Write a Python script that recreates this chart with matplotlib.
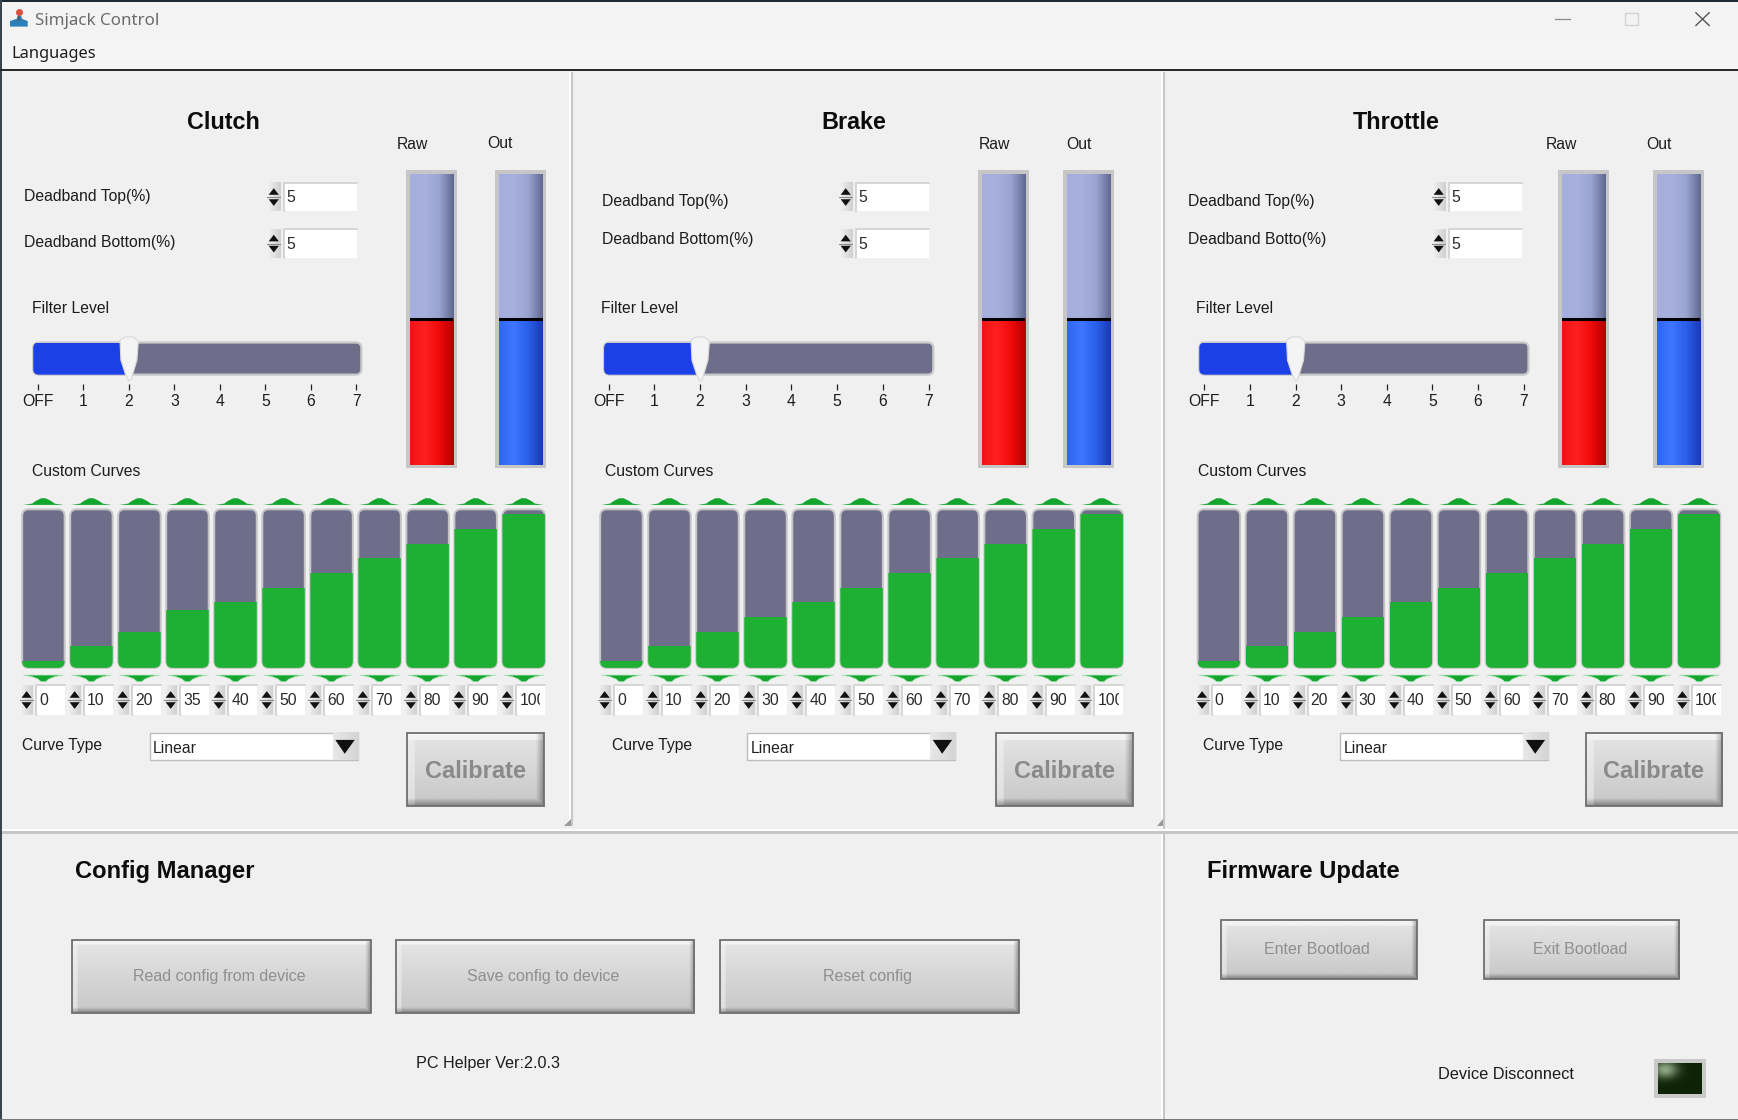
import numpy as np
import matplotlib
matplotlib.use("Agg")
import matplotlib.pyplot as plt
from matplotlib.patches import Rectangle, FancyBboxPatch, Polygon
from matplotlib.colors import LinearSegmentedColormap, to_rgb

plt.rcParams['font.family'] = ['Liberation Sans', 'DejaVu Sans']

# ---- values
PANEL_TITLES = ["Clutch", "Brake", "Throttle"]
CLUTCH_CURVE = [0, 10, 20, 35, 40, 50, 60, 70, 80, 90, 100]
BRAKE_CURVE = [0, 10, 20, 30, 40, 50, 60, 70, 80, 90, 100]
THROTTLE_CURVE = [0, 10, 20, 30, 40, 50, 60, 70, 80, 90, 100]
CURVES = [CLUTCH_CURVE, BRAKE_CURVE, THROTTLE_CURVE]
CURVE_LABELS = [["0", "10", "20", "35", "40", "50", "60", "70", "80", "90", "100"],
                ["0", "10", "20", "30", "40", "50", "60", "70", "80", "90", "100"],
                ["0", "10", "20", "30", "40", "50", "60", "70", "80", "90", "100"]]
RAW_LEVELS = [50, 50, 50]
OUT_LEVELS = [50, 50, 50]
FILTER_LEVELS = [2, 2, 2]
FILTER_TICKS = ["OFF", "1", "2", "3", "4", "5", "6", "7"]
DEADBAND_TOP = [5, 5, 5]
DEADBAND_BOTTOM = [5, 5, 5]
BOTTOM_LABELS = ["Deadband Bottom(%)", "Deadband Bottom(%)", "Deadband Botto(%)"]

# ---- layout, in reference-view pixels
W, H = 1568.0, 1010.4
TITLE_X = [202, 770, 1260]
RAW_LABEL = [(372, 129), (897, 129), (1409, 129)]
OUT_LABEL = [(451, 128), (973, 129), (1497, 129)]
DB_X = [22, 543, 1072]
DB_Y = [(176, 218), (181, 215), (181, 215)]
ARROW_X = [247, 763, 1298]
FILTER_X = [29, 542, 1079]
TRACK_X = [(30, 326), (545, 842), (1082, 1379)]
TICK0 = [34.2, 549, 1086.5]
TICK_STEP = [41.05, 41.25, 41.15]
RAW_X = [366, 882, 1406]
OUT_X = [447, 959, 1491]
CUSTOM_X = [29, 546, 1081]
SLIDER_X = [20, 541.5, 1080.5]
STEP, SW = 43.33, 38.3
CTYPE_X = [20, 552, 1085]
COMBO_X = [135, 674, 1209]
CAL_X = [367, 898, 1430]

fig = plt.figure(figsize=(17.38, 11.2), dpi=100, facecolor="#f0f0f0")
ax = fig.add_axes([0, 0, 1, 1], zorder=0)
ax.set_xlim(0, W)
ax.set_ylim(H, 0)
ax.axis("off")
ax.set_autoscale_on(False)


def sub_axes(x0, y0, x1, y1, z=2):
    a = fig.add_axes([x0 / W, 1 - y1 / H, (x1 - x0) / W, (y1 - y0) / H], zorder=z)
    a.patch.set_alpha(0)
    a.set_autoscale_on(False)
    return a


def cmap(stops):
    return LinearSegmentedColormap.from_list("c", stops, N=128)


def hgrad(a, extent, stops, z=2):
    img = np.linspace(0, 1, 128).reshape(1, -1)
    a.imshow(img, extent=extent, cmap=cmap(stops), aspect="auto", zorder=z, vmin=0, vmax=1, interpolation="bilinear")


def rect(x0, y0, x1, y1, fc, ec="none", lw=0, z=2, target=None):
    p = Rectangle((x0, y0), x1 - x0, y1 - y0, fc=fc, ec=ec, lw=lw, zorder=z)
    (target or ax).add_patch(p)
    return p


def label(x, y, s, size=11.3, color="#1c1c1c", ha="left", weight="normal", z=6, **kw):
    return ax.text(x, y + 1.2, s, fontsize=size, color=color, ha=ha, va="center", weight=weight, zorder=z, **kw)


def button(x0, y0, x1, y1, bev=5):
    ny = max(int((y1 - y0) * 2), 40)
    nx = max(int((x1 - x0) * 2), 40)
    yy, xx = np.mgrid[0:ny, 0:nx]
    yy = yy / (ny - 1)
    xx = xx / (nx - 1)
    face = 0.90 - 0.12 * yy
    ex = bev / (x1 - x0)
    ey = bev / (y1 - y0)
    img = face.copy()
    img = np.where(xx < ex, 0.93 - 0.06 * yy, img)
    img = np.where(yy < ey, 0.95, img)
    r = np.clip((xx - (1 - ex)) / ex, 0, 1)
    b = np.clip((yy - (1 - ey)) / ey, 0, 1)
    img = img - 0.28 * np.maximum(r, b)
    ax.imshow(img, extent=(x0, x1, y1, y0), cmap="gray", vmin=0, vmax=1, aspect="auto", zorder=3, interpolation="bilinear")
    rect(x0, y0, x1, y1, "none", ec="#6f6f6f", lw=1.3, z=4)


def spinner(x_arrow, y0, y1, half=6.0):
    """Up/down arrow column of a numeric control."""
    hgrad(ax, (x_arrow - half, x_arrow + half, y1, y0), ["#f4f4f4", "#cfcfcf"], z=3)
    ym = (y0 + y1) / 2
    ax.plot([x_arrow - half, x_arrow + half], [ym, ym], color="#8a8a8a", lw=0.8, zorder=4)
    ax.add_patch(Polygon([(x_arrow - 4.6, ym - 2), (x_arrow + 4.6, ym - 2), (x_arrow, ym - 8)], fc="#111111", zorder=5))
    ax.add_patch(Polygon([(x_arrow - 4.6, ym + 2), (x_arrow + 4.6, ym + 2), (x_arrow, ym + 8)], fc="#111111", zorder=5))


def numeric(x_arrow, bx0, bx1, y0, y1, txt, size=11.3, half=6.0):
    spinner(x_arrow, y0, y1, half)
    rect(bx0, y0, bx1, y1, "white", z=3)
    ax.plot([bx0, bx0, bx1], [y1, y0, y0], color="#d0d0d0", lw=1.2, zorder=4)
    t = label(bx0 + 2.8, (y0 + y1) / 2 - 0.4, txt, size=size, color="#2a2a2a")
    t.set_clip_path(Rectangle((bx0, y0), bx1 - bx0 - 4.5, y1 - y0, transform=ax.transData))
    t.set_clip_on(True)


# ---- window chrome
rect(0, 0, W, 35, "#f3f3f3", z=1)
rect(0, 35, W, 62, "#f5f5f5", z=1)
rect(0, 0, W, 1.6, "#1d2a33", z=2)
rect(0, 0, 1.5, H, "#3a444c", z=2)
rect(0, 62.5, W, 64.3, "#2a2a2a", z=2)
ax.add_patch(Polygon([(9, 24), (25, 24), (25, 19), (20, 17), (19, 14), (16, 14), (15, 17), (9, 19)], fc="#2d7fb8", zorder=3))
ax.plot([17, 17], [12, 18], color="#555555", lw=1.2, zorder=4)
ax.plot([17], [11], "o", ms=4, color="#d9503f", zorder=5)
ax.text(32, 19, "Simjack Control", fontsize=12.2, color="#6b6b6b", va="center", family=["Noto Sans", "DejaVu Sans"], zorder=6)
ax.text(10, 48.5, "Languages", fontsize=11.8, color="#1c1c1c", va="center", family=["Noto Sans", "DejaVu Sans"], zorder=6)
ax.plot([1403, 1416], [17, 17], color="#8a8a8a", lw=0.9, zorder=6)
rect(1466, 12, 1478, 23, "none", ec="#d4d4d4", lw=1, z=6)
ax.plot([1530, 1542], [11.5, 23], color="#555555", lw=1, zorder=6)
ax.plot([1530, 1542], [23, 11.5], color="#555555", lw=1, zorder=6)

# ---- dividers
for xv, y1 in [(515.5, 745), (1050, H)]:
    rect(xv - 2.5, 65, xv - 0.5, y1, "#ffffff", z=1.5)
    rect(xv - 0.5, 65, xv + 1.2, y1, "#c6c6c6", z=1.5)
rect(0, 747.5, W, 750, "#ffffff", z=1.6)
rect(0, 750, W, 752, "#c6c6c6", z=1.6)
for xv in (514, 1048.5):
    ax.add_patch(Polygon([(xv - 5, 745), (xv + 1, 745), (xv + 1, 739)], fc="#9a9a9a", zorder=2))
rect(0, H - 1.2, W, H, "#777777", z=2)

# ---- pedal panels
for p in range(3):
    label(TITLE_X[p], 109, PANEL_TITLES[p], size=16.8, ha="center", weight="bold", color="#0c0c0c")
    label(RAW_LABEL[p][0], RAW_LABEL[p][1], "Raw", ha="center")
    label(OUT_LABEL[p][0], OUT_LABEL[p][1], "Out", ha="center")
    label(DB_X[p], DB_Y[p][0], "Deadband Top(%)")
    label(DB_X[p], DB_Y[p][1], BOTTOM_LABELS[p])
    bx0 = ARROW_X[p] + 9
    numeric(ARROW_X[p], bx0, bx0 + 66, 165, 190.5, str(DEADBAND_TOP[p]))
    numeric(ARROW_X[p], bx0, bx0 + 66, 207, 232.5, str(DEADBAND_BOTTOM[p]))
    label(FILTER_X[p], 277, "Filter Level")

    # filter slider
    tx0, tx1 = TRACK_X[p]
    track = FancyBboxPatch((tx0 + 3, 312), tx1 - tx0 - 6, 23, boxstyle="round,pad=3,rounding_size=5",
                           fc="#6e6d8a", ec="#c9c9c9", lw=1.6, zorder=2)
    ax.add_patch(track)
    fa = sub_axes(tx0, 300, tx1, 346.5)
    lo = (tx0 - TICK0[p]) / TICK_STEP[p]
    hi = (tx1 - TICK0[p]) / TICK_STEP[p]
    fa.set_xlim(lo, hi)
    fa.set_ylim(346.5, 300)
    lvl = FILTER_LEVELS[p]
    bars = fa.barh([323.5], [lvl - lo], left=lo, height=29, color="#1a40e6", zorder=1)
    for b in bars:
        b.set_clip_path(track)
    half = 8.5 / TICK_STEP[p]
    fa.add_patch(Polygon([(lvl - half * 0.95, 307), (lvl - half * 0.4, 304), (lvl + half * 0.5, 304),
                          (lvl + half, 308), (lvl + half * 0.85, 325), (lvl + half * 0.25, 342),
                          (lvl, 344), (lvl - half * 0.35, 338), (lvl - half * 0.85, 325)],
                         fc="#f4f4f4", ec="#d8d8d8", lw=0.8, zorder=3))
    fa.set_yticks([])
    fa.set_xticks(range(len(FILTER_TICKS)), FILTER_TICKS, fontsize=11.3, color="#1c1c1c")
    fa.tick_params(axis="x", length=4.4, width=0.9, color="#222222", pad=3.0)
    for s in fa.spines.values():
        s.set_visible(False)

    # meters
    for xm, value, fill in [(RAW_X[p], RAW_LEVELS[p], ["#ee1414", "#ff2020", "#f00a0a", "#b50000"]),
                            (OUT_X[p], OUT_LEVELS[p], ["#2f66f0", "#3d76ff", "#2a5fe8", "#1a39b8"])]:
        rect(xm, 153, xm + 46, 422.5, "#c6c6c6", z=2)
        ma = sub_axes(xm + 3.5, 157, xm + 43, 419.5)
        ma.set_xlim(0, 1)
        ma.set_ylim(0, 100)
        hgrad(ma, (0, 1, value, 100), ["#a5aedc", "#a8b1de", "#9aa4d0", "#5e688f"])
        hgrad(ma, (0, 1, 0, value), fill)
        ma.axhline(value + 0.3, color="black", lw=2.2, zorder=4)
        ma.axis("off")

    # custom curves
    label(CUSTOM_X[p], 424, "Custom Curves")
    x0 = SLIDER_X[p]
    ca = sub_axes(x0, 459.5, x0 + 10 * STEP + SW, 602.4)
    pad = (SW / STEP) / 2
    ca.set_xlim(-pad, 10 + pad)
    v_bottom = -4.6
    v_top = 103.3
    ca.set_ylim(v_bottom, v_top)
    ca.axis("off")
    vals = CURVES[p]
    for i, v in enumerate(vals):
        sx = x0 + i * STEP
        tr = FancyBboxPatch((sx + 4, 463.5), SW - 8, 135, boxstyle="round,pad=4,rounding_size=6",
                            fc="#6e6d8a", ec="#c4c4c4", lw=1.4, zorder=2)
        ax.add_patch(tr)
        b = ca.bar([i], [v - v_bottom], bottom=v_bottom, width=2 * pad, color="#1db033", zorder=2)[0]
        b.set_clip_path(tr)
        cx = sx + SW / 2
        ax.add_patch(Polygon([(sx + 1, 455.5), (sx + 9, 454.3), (cx - 7, 452), (cx - 2, 449.5), (cx + 2, 449.5),
                              (cx + 7, 452), (sx + SW - 9, 454.3), (sx + SW - 1, 455.5)], fc="#14a52e", zorder=3))
        ax.add_patch(Polygon([(sx + 1, 609), (sx + SW - 1, 609), (sx + SW - 9, 610.5), (cx + 5, 612.5), (cx + 2, 615),
                              (cx - 2, 615), (cx - 5, 612.5), (sx + 9, 610.5)], fc="#14a52e", ec="#a8e6b4", lw=0.5, zorder=3))
        numeric(sx + 4, sx + 12.5, sx + SW + 0.5, 618, 645, CURVE_LABELS[p][i], half=5.8)

    # curve type + calibrate
    label(CTYPE_X[p], 671, "Curve Type")
    cx0 = COMBO_X[p]
    rect(cx0, 661, cx0 + 188, 686, "white", ec="#bdbdbd", lw=1, z=3)
    hgrad(ax, (cx0 + 165, cx0 + 188, 686, 661), ["#e8e8e8", "#d4d4d4"], z=4)
    ax.add_patch(Polygon([(cx0 + 167.5, 667.5), (cx0 + 185, 667.5), (cx0 + 176, 680)], fc="#111111", zorder=5))
    label(cx0 + 3, 674, "Linear", color="#222222")
    button(CAL_X[p] + 0.5, 661, CAL_X[p] + 124, 727.5, bev=7)
    label(CAL_X[p] + 62, 695, "Calibrate", size=17, color="#8a8a8a", ha="center", weight="bold")

# ---- config manager
label(68, 785, "Config Manager", size=17.1, weight="bold", color="#0c0c0c")
for xb, txt in [(65, "Read config from device"), (357, "Save config to device"), (650, "Reset config")]:
    button(xb, 848, xb + 269.5, 914)
    label(xb + 133, 880, txt, size=11.5, color="#8f8f8f", ha="center")
label(440, 958, "PC Helper Ver:2.0.3", size=11.6, ha="center")

# ---- firmware update
label(1089, 785, "Firmware Update", size=17.1, weight="bold", color="#0c0c0c")
for xb, txt in [(1101.5, "Enter Bootload"), (1338.5, "Exit Bootload")]:
    button(xb, 830, xb + 176.5, 883)
    label(xb + 87, 855.5, txt, size=11.5, color="#8f8f8f", ha="center")
label(1297, 968, "Device Disconnect", size=11.8)
rect(1492, 955.5, 1539, 991, "#c9c9c9", z=3)
yy, xx = np.mgrid[0:40, 0:50]
led = np.exp(-(((xx - 8) / 14.0) ** 2 + ((yy - 8) / 11.0) ** 2))
ledimg = np.zeros((40, 50, 3))
base = np.array(to_rgb("#0e2206"))
glow = np.array(to_rgb("#8fa884"))
for c in range(3):
    ledimg[:, :, c] = base[c] + (glow[c] - base[c]) * led
ax.imshow(ledimg, extent=(1496, 1535.5, 987, 959.5), aspect="auto", zorder=4, interpolation="bilinear")

ax.set_xlim(0, W)
ax.set_ylim(H, 0)
fig.savefig("out.png", dpi=100, facecolor=fig.get_facecolor())
